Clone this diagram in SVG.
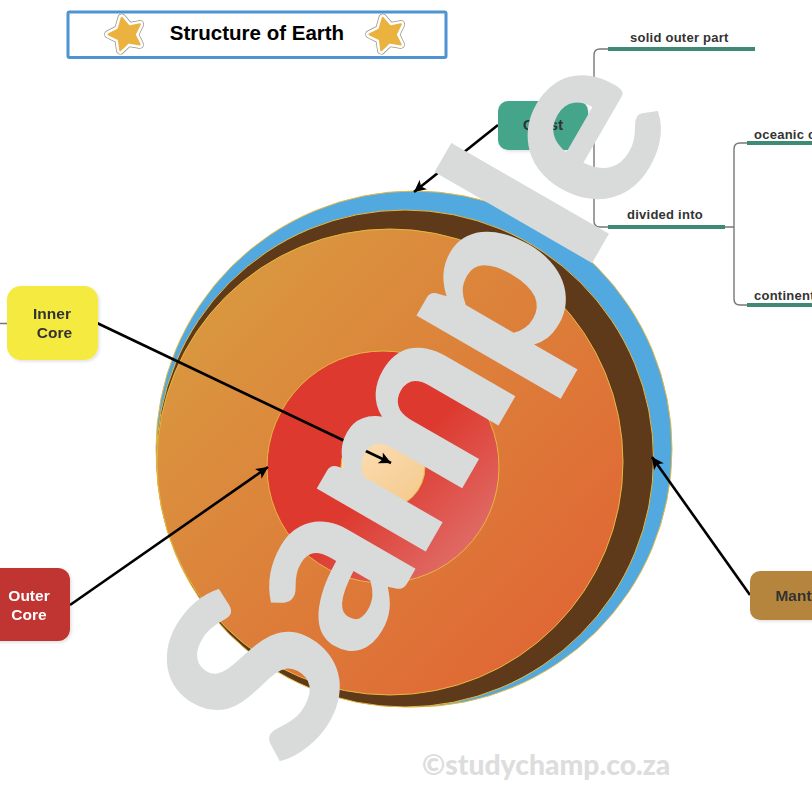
<svg xmlns="http://www.w3.org/2000/svg" width="812" height="812" viewBox="0 0 812 812">
<style>
text{font-family:"Liberation Sans",Arial,sans-serif;font-weight:700;fill:#333}
.lbl{font-size:13px;letter-spacing:.25px}
.nt{font-size:15.500px;text-anchor:middle}
.link{fill:none;stroke:#777;stroke-width:1.4}
.bar{stroke:#3d8a75;stroke-width:4;fill:none}
.arrow{stroke:#000;stroke-width:2.6;fill:none;marker-end:url(#ah)}
.star{fill:#ebb23f;stroke:#ebb23f;stroke-width:2;stroke-linejoin:round}
.stark{fill:#fff;stroke:#fff;stroke-width:7;stroke-linejoin:round}
.starb{fill:none;stroke:#9a9486;stroke-width:8.500;stroke-linejoin:round}
.ring{stroke:#e6b840;stroke-width:1}
.node{filter:url(#sh)}
</style>
<defs>
<marker id="ah" markerUnits="userSpaceOnUse" markerWidth="14" markerHeight="12" refX="12" refY="6" orient="auto"><path d="M0 0L12 6L0 12L3 6Z" fill="#000"/></marker>
<linearGradient id="go" x1="0.05" y1="0.1" x2="0.9" y2="0.9"><stop offset="0" stop-color="#d99b40"/><stop offset="1" stop-color="#e06534"/></linearGradient>
<linearGradient id="gr" x1="0.2" y1="0.2" x2="0.9" y2="0.9"><stop offset="0.45" stop-color="#dd392e"/><stop offset="1" stop-color="#e0706c"/></linearGradient>
<linearGradient id="gp" x1="0.3" y1="0.2" x2="0.8" y2="0.9"><stop offset="0" stop-color="#fbdcb0"/><stop offset="1" stop-color="#f5cc92"/></linearGradient>
<filter id="sh" x="-10%" y="-10%" width="125%" height="125%"><feDropShadow dx="1.5" dy="1.5" stdDeviation="1.5" flood-color="#000" flood-opacity=".12"/></filter>
<path id="s" d="M-1-16L5-6.500L16-7L9.500 2.500L13 13L2 9.500L-7 16L-7 5L-16.500 -1.500L-6-5Z"/>
</defs>
<g id="title">
<rect x="68" y="12" width="378" height="45.500" rx="1.500" fill="#fff" stroke="#4f94d0" stroke-width="3"/>
<g transform="translate(125 33.500) rotate(-8)"><use href="#s" class="starb"/><use href="#s" class="stark"/><use href="#s" class="star"/></g>
<g transform="translate(386 33.500) rotate(-8)"><use href="#s" class="starb"/><use href="#s" class="stark"/><use href="#s" class="star"/></g>
<text x="257" y="39.500" text-anchor="middle" style="font-size:20.500px;fill:#000">Structure of Earth</text>
</g>
<g id="earth">
<circle class="ring" cx="414" cy="449" r="258" fill="#52a9e0"/>
<circle class="ring" cx="405" cy="458.500" r="248.500" fill="#5e3a1a"/>
<circle class="ring" cx="390" cy="462" r="233" fill="url(#go)"/>
<circle class="ring" cx="383" cy="467" r="116" fill="url(#gr)"/>
<circle class="ring" cx="383" cy="467" r="42" fill="url(#gp)"/>
</g>
<g id="connectors">
<path class="link" d="M588 125H594M608 49H600Q594 49 594 55V221Q594 227 600 227H608M725 227H734M747 143H740Q734 143 734 149V299Q734 305 740 305H747M0 323.500H7"/>
<path class="bar" d="M608 49H755M608 227H725M747 143H812M747 305H812"/>
<path class="arrow" d="M498 125L414 192"/>
<path class="arrow" d="M97 323L391 463"/>
<path class="arrow" d="M70 605L268 467"/>
<path class="arrow" d="M750 595L652 457"/>
</g>
<g id="crust" class="node"><rect x="498" y="101" width="90" height="49" rx="10" fill="#45a58a"/><text class="nt" x="543" y="130">Crust</text></g>
<g id="solid-outer-part"><text class="lbl" x="630" y="42">solid outer part</text></g>
<g id="divided-into"><text class="lbl" x="627" y="219">divided into</text></g>
<g id="oceanic-crust"><text class="lbl" x="754" y="139">oceanic crust</text></g>
<g id="continental-crust"><text class="lbl" x="754" y="300">continental crust</text></g>
<g id="inner-core" class="node"><rect x="7" y="286" width="91" height="74" rx="14" fill="#f4ea40"/><text class="nt" x="52" y="319">Inner</text><text class="nt" x="54.500" y="338">Core</text></g>
<g id="outer-core" class="node"><rect x="-20" y="568" width="90" height="73" rx="12" fill="#c03431"/><text class="nt" x="29" y="601" style="fill:#fff">Outer</text><text class="nt" x="29" y="620" style="fill:#fff">Core</text></g>
<g id="mantle" class="node"><rect x="750" y="571" width="95" height="49" rx="10" fill="#b5843e"/><text class="nt" x="800" y="601">Mantle</text></g>
<text x="0" y="0" transform="translate(296 776) rotate(-60)" style="font-family:Lato,sans-serif;font-size:244px;font-weight:900;letter-spacing:-6.200px;fill:#d9dbdb">Sample</text>
<text x="422" y="775" style="font-family:Lato,sans-serif;font-size:28.300px;font-weight:900;fill:#dddddd">©studychamp.co.za</text>
</svg>
